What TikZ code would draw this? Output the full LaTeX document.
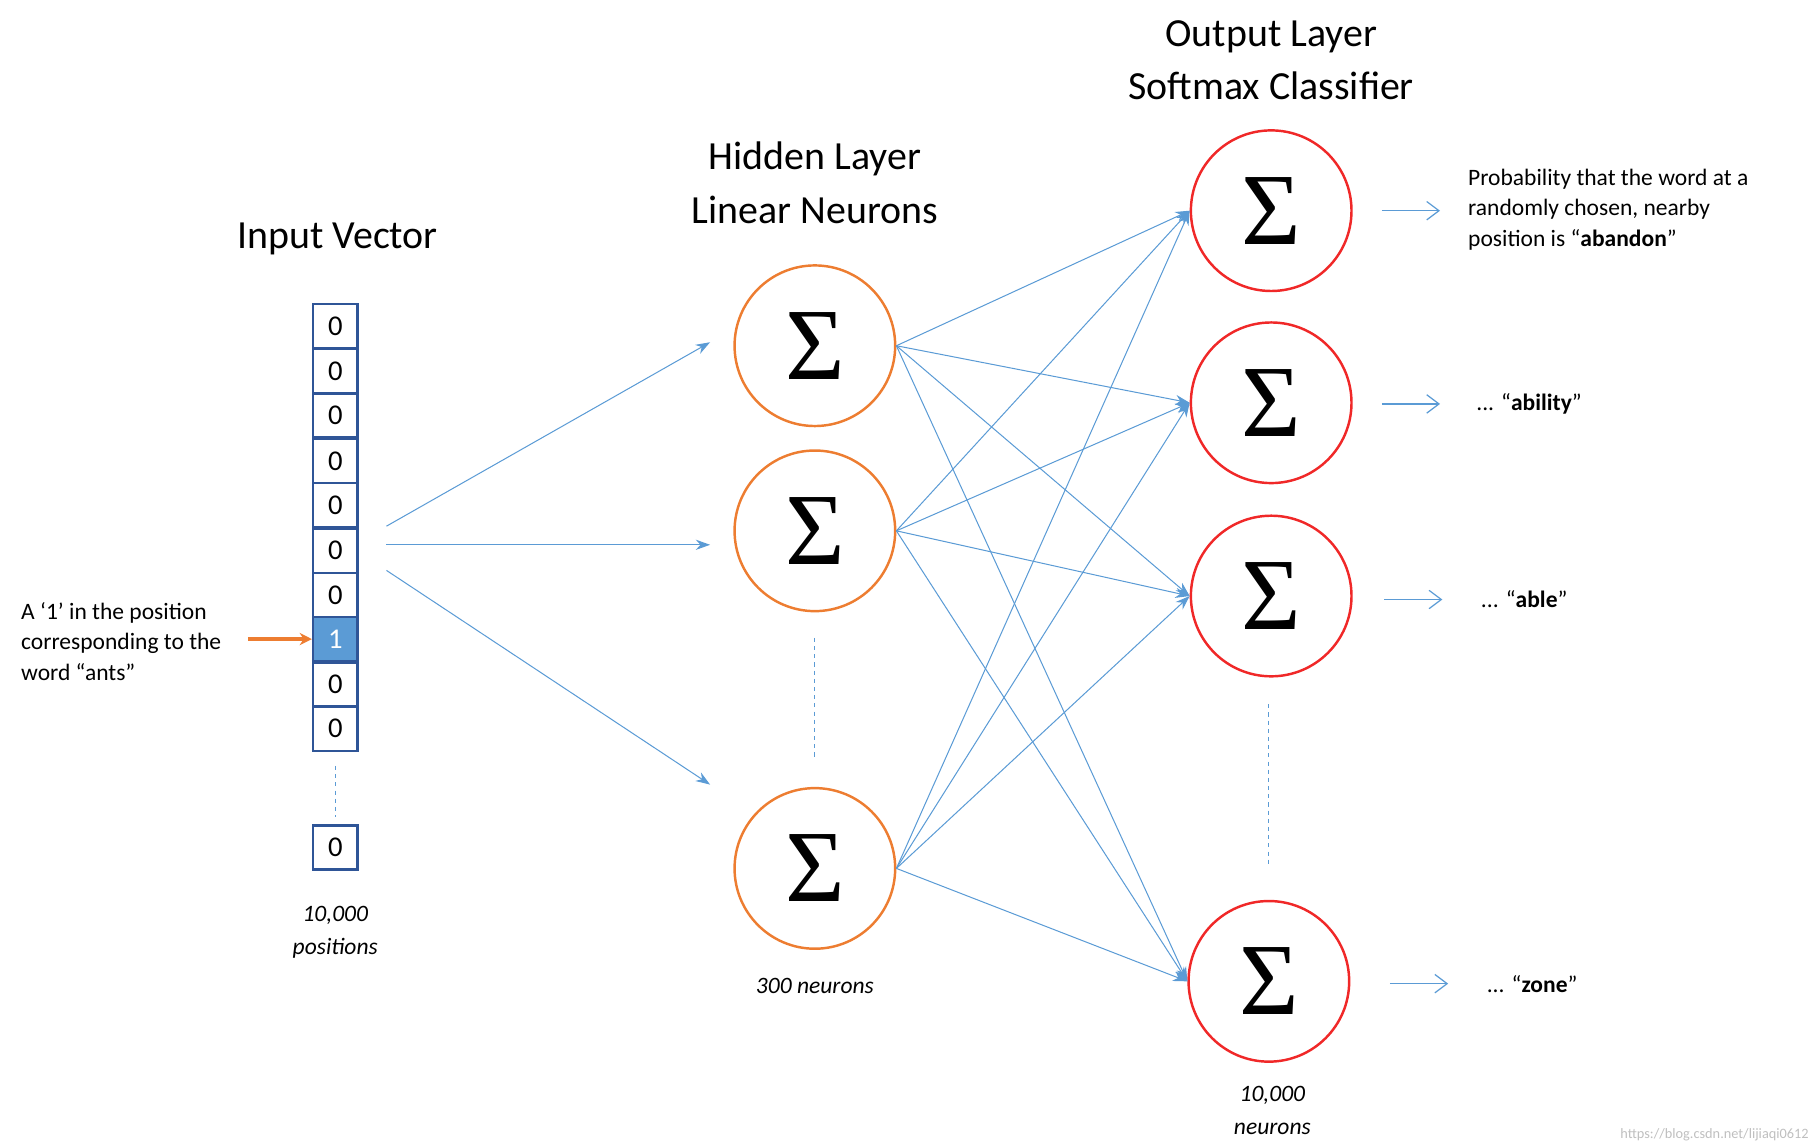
\documentclass[tikz,border=0pt]{standalone}
\usepackage{fontspec}
\setmainfont{Carlito}
\newfontfamily\sigf{Liberation Serif}
\usetikzlibrary{arrows.meta}
\definecolor{lb}{RGB}{91,155,213}
\definecolor{bx}{RGB}{47,85,151}
\definecolor{orn}{RGB}{237,125,49}
\definecolor{rd}{RGB}{240,40,40}
\begin{document}
\begin{tikzpicture}[x=0.02cm,y=-0.02cm,
 cell/.style={draw=bx,line width=1.2pt,minimum width=0.76cm,minimum height=0.76cm,inner sep=0,font=\fontsize{14}{14}\selectfont},
 hid/.style={circle,draw=orn,line width=1.2pt,minimum size=2.76cm,inner sep=0,font=\sigf\fontsize{50}{50}\selectfont},
 outn/.style={circle,draw=rd,line width=1.2pt,minimum size=2.76cm,inner sep=0,font=\sigf\fontsize{50}{50}\selectfont},
 title/.style={font=\fontsize{19.5}{26}\selectfont,align=center},
 txt/.style={font=\fontsize{11.5}{15}\selectfont},
 conn/.style={draw=lb,line width=0.5pt,-{Stealth[length=7pt,width=5pt]}},
 oarr/.style={draw=lb,line width=0.6pt,-{Straight Barb[length=6pt,width=9pt]}},
 dot/.style={draw=lb,dash pattern=on 2pt off 2pt,line width=0.6pt}]
\useasboundingbox (0,0) rectangle (1560,986);
% input vector
\foreach \i/\y/\v in {0/280/0,1/319/0,2/357/0,3/396/0,4/434/0,5/473/0,6/511/0,8/588/0,9/626/0}
  \node[cell] (c\i) at (288,\y) {\v};
\node[cell,fill=lb,text=white] (c7) at (288,549) {1};
\node[cell] (cl) at (288,728) {0};
\draw[dot] (288,658) -- (288,702);
\node[title] (tin) at (290,205) {Input Vector};
\node[txt,align=center,font=\itshape\fontsize{11.5}{16}\selectfont] (pos) at (288,801) {10,000\\positions};
\node[txt,align=left,anchor=west,font=\fontsize{11.5}{15}\selectfont] (lt) at (12,551) {A ‘1’ in the position\\corresponding to the\\word “ants”};
\coordinate (oa) at (213,549);
\draw[orn,line width=1.6pt,-{Stealth[length=6pt,width=6pt]}] (oa) -- (c7.west);
% hidden
\node[hid] (h1) at (700,297) {Σ};
\node[hid] (h2) at (700,456) {Σ};
\node[hid] (h3) at (700,746) {Σ};
\draw[dot] (700,548) -- (700,652);
\node[title] (th) at (700,157) {Hidden Layer\\Linear Neurons};
\node[txt,font=\itshape\fontsize{11.5}{15}\selectfont] (hn) at (700,847) {300 neurons};
\coordinate (s1) at (332,452); \coordinate (s2) at (332,468); \coordinate (s3) at (332,490);
\coordinate (e1) at (610,294); \coordinate (e2) at (610,468); \coordinate (e3) at (610,674);
\draw[conn] (s1) -- (e1);
\draw[conn] (s2) -- (e2);
\draw[conn] (s3) -- (e3);
% output
\node[outn] (o1) at (1092,181) {Σ};
\node[outn] (o2) at (1092,346) {Σ};
\node[outn] (o3) at (1092,512) {Σ};
\node[outn] (o4) at (1090,843) {Σ};
\draw[dot] (1090,605) -- (1090,745);
\node[title] (to) at (1092,52) {Output Layer\\Softmax Classifier};
\node[txt,align=center,font=\itshape\fontsize{11.5}{16}\selectfont] (on) at (1093,954) {10,000\\neurons};
\foreach \h in {h1,h2,h3}
  \foreach \o in {o1,o2,o3,o4}
    \draw[conn] (\h.east) -- (\o.west);
% output arrows and labels
\coordinate (a1) at (1187,181); \coordinate (b1) at (1237,181);
\coordinate (a2) at (1187,347); \coordinate (b2) at (1237,347);
\coordinate (a3) at (1189,515); \coordinate (b3) at (1239,515);
\coordinate (a4) at (1194,845); \coordinate (b4) at (1244,845);
\draw[oarr] (a1) -- (b1);
\draw[oarr] (a2) -- (b2);
\draw[oarr] (a3) -- (b3);
\draw[oarr] (a4) -- (b4);
\node[txt,align=left,anchor=west,font=\fontsize{11.5}{15}\selectfont] (l1) at (1255,180) {Probability that the word at a\\randomly chosen, nearby\\position is “\textbf{abandon}”};
\node[txt,anchor=west] (l2) at (1262,347) {... “\textbf{ability}”};
\node[txt,anchor=west] (l3) at (1266,515) {... “\textbf{able}”};
\node[txt,anchor=west] (l4) at (1271,845) {... “\textbf{zone}”};
\node[font=\fontsize{7}{8}\selectfont,text=black!25,anchor=east] (wm) at (1560,975) {https://blog.csdn.net/lijiaqi0612};
\end{tikzpicture}
\end{document}
